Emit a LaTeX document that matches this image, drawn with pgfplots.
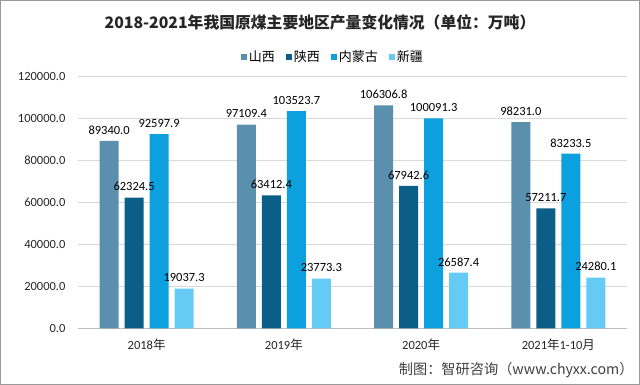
\documentclass[border=0pt]{standalone}
\usepackage{pgfplots}
\pgfplotsset{compat=1.18}
\usepackage{fontspec}
\setmainfont{Carlito}
\newfontfamily\cjk{Noto Sans CJK SC}
\definecolor{cSX}{HTML}{5B8FAE}
\definecolor{cShX}{HTML}{0B5E87}
\definecolor{cNM}{HTML}{0CA1DE}
\definecolor{cXJ}{HTML}{66CBF4}
\begin{document}
\begin{tikzpicture}
\path[use as bounding box] (0pt,0pt) rectangle (640pt,385pt);
\fill[white] (0pt,0pt) rectangle (640pt,385pt);
\draw[black!40, line width=1.2pt] (0.6pt,0.6pt) rectangle (639.4pt,384.4pt);
\begin{axis}[
  at={(78pt,56.5pt)}, anchor=south west,
  scale only axis, width=549pt, height=252pt,
  ybar=6pt, bar width=19pt,
  xmin=-0.5, xmax=3.5, ymin=0, ymax=120000,
  xtick={0,1,2,3},
  xticklabels={2018{\cjk 年},2019{\cjk 年},2020{\cjk 年},2021{\cjk 年}1-10{\cjk 月}},
  ytick={0,20000,40000,60000,80000,100000,120000},
  scaled y ticks=false,
  yticklabel={\pgfmathprintnumber[fixed,fixed zerofill,precision=1,1000 sep={}]{\tick}},
  /pgf/number format/assume math mode=true,
  ymajorgrids, grid style={draw=black!15, line width=0.6pt},
  axis x line*=bottom, axis y line*=left,
  x axis line style={draw=black!25, line width=0.8pt},
  y axis line style={draw=none},
  major tick length=0pt,
  tick label style={font=\fontsize{12.5}{14}\selectfont, text=black!85},
  yticklabel style={xshift=-9pt},
  xticklabel style={yshift=-7pt},
  nodes near coords={\pgfmathprintnumber[fixed,fixed zerofill,precision=1,1000 sep={}]{\pgfplotspointmeta}},
  nodes near coords style={font=\fontsize{12.5}{14}\selectfont, text=black, yshift=3pt},
  clip=false,
  legend style={at={(0.455,1)}, anchor=center, yshift=19.5pt, draw=none, fill=none,
    font=\cjk\fontsize{13}{15}\selectfont, column sep=0pt, legend cell align=left,
    nodes={inner sep=1.5pt}},
  legend columns=4,
]
\addplot[fill=cSX, draw=none, legend image code/.code={\path (-10pt,0pt); \fill[cSX] (0pt,-3pt) rectangle (6pt,3pt);}]
  coordinates {(0,89340.0) (1,97109.4) (2,106306.8) (3,98231.0)};
\addplot[fill=cShX, draw=none, legend image code/.code={\path (-10pt,0pt); \fill[cShX] (0pt,-3pt) rectangle (6pt,3pt);}]
  coordinates {(0,62324.5) (1,63412.4) (2,67942.6) (3,57211.7)};
\addplot[fill=cNM, draw=none, legend image code/.code={\path (-10pt,0pt); \fill[cNM] (0pt,-3pt) rectangle (6pt,3pt);}]
  coordinates {(0,92597.9) (1,103523.7) (2,100091.3) (3,83233.5)};
\addplot[fill=cXJ, draw=none, legend image code/.code={\path (-10pt,0pt); \fill[cXJ] (0pt,-3pt) rectangle (6pt,3pt);}]
  coordinates {(0,19037.3) (1,23773.3) (2,26587.4) (3,24280.1)};
\legend{山西,陕西,内蒙古,新疆}
\end{axis}
\node[font=\cjk\bfseries\fontsize{15.8}{18}\selectfont, text=black!85] at (320pt,363pt)
  {2018-2021年我国原煤主要地区产量变化情况（单位：万吨）};
\node[anchor=east, font=\cjk\fontsize{14.2}{16}\selectfont, text=black!75] at (637pt,15pt)
  {制图：智研咨询（www.chyxx.com）};
\end{tikzpicture}
\end{document}
